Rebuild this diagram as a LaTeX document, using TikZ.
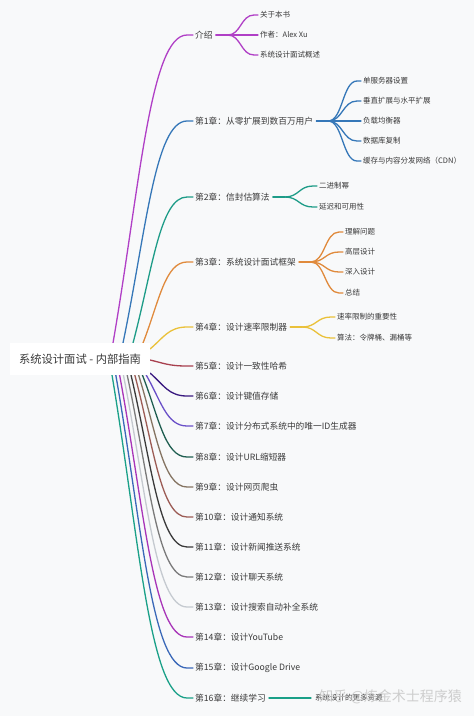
\documentclass[tikz,border=0pt]{standalone}
\usepackage{fontspec}
\newfontfamily\cjk{Noto Sans CJK SC}
\usetikzlibrary{calc}
\definecolor{bg}{HTML}{F8F9FA}
\definecolor{txt}{HTML}{3A3A3A}
\definecolor{bra}{HTML}{B03FC6}
\definecolor{brb}{HTML}{3577B8}
\definecolor{brc}{HTML}{1E9C88}
\definecolor{brd}{HTML}{E08A3C}
\definecolor{bre}{HTML}{EAC13A}
\definecolor{brf}{HTML}{A8404E}
\definecolor{brg}{HTML}{3A1A80}
\definecolor{brh}{HTML}{6A50C8}
\definecolor{bri}{HTML}{1F5E50}
\definecolor{brj}{HTML}{857462}
\definecolor{brk}{HTML}{9C5C55}
\definecolor{brl}{HTML}{3A3A3A}
\definecolor{brm}{HTML}{7A7A7A}
\definecolor{brn}{HTML}{C5CAD0}
\definecolor{bro}{HTML}{A834B8}
\definecolor{brp}{HTML}{3A68B8}
\definecolor{brq}{HTML}{1AA088}
\newcommand\mainbr[3]{\draw[conn,#3] let \p1=(#1), \p2=($(#2.west)+(-8,0)$) in (\p1) .. controls ({\x1+0.36*(\x2-\x1)},{\y1+0.5*(\y2-\y1)}) and ({0.5*(\x1+\x2)},\y2) .. (\p2) -- ($(#2.west)+(-2,0)$);}
\newcommand\kidbr[3]{\draw[conn,#3] let \p1=(#1), \p2=($(#2.west)+(-6,0)$) in (\p1) .. controls ({0.5*(\x1+\x2)},\y1) and ({0.5*(\x1+\x2)},\y2) .. (\p2) -- ($(#2.west)+(-2,0)$);}
\newcommand\stub[2]{\coordinate (#1o) at ($(#1.east)+(15,0)$); \draw[conn,#2] ($(#1.east)+(3,0)$) -- (#1o);}
\begin{document}
\begin{tikzpicture}[x=1pt,y=-1pt,
  chap/.style={anchor=west, inner sep=0pt, font=\cjk\fontsize{8.7}{10}\selectfont, text=txt},
  leaf/.style={anchor=west, inner sep=0pt, font=\cjk\fontsize{7.5}{9}\selectfont, text=txt},
  conn/.style={line width=1.3pt, line cap=round},
  rootbox/.style={fill=white, minimum width=140pt, minimum height=32pt, inner sep=0pt, font=\cjk\fontsize{11.3}{13}\selectfont, text=txt},
  wmark/.style={anchor=east, inner sep=0pt, font=\cjk\fontsize{14}{16}\selectfont, text=gray!45, opacity=0.85}]
\fill[bg] (0,0) rectangle (474,716);
\useasboundingbox (0,0) rectangle (474,716);
% chapters
\node[chap] (intro) at (195,35) {介绍};
\node[chap] (n1) at (195,121) {第1章：从零扩展到数百万用户};
\node[chap] (n2) at (195,197) {第2章：信封估算法};
\node[chap] (n3) at (195,262) {第3章：系统设计面试框架};
\node[chap] (n4) at (195,327) {第4章：设计速率限制器};
\node[chap] (n5) at (195,366) {第5章：设计一致性哈希};
\node[chap] (n6) at (195,396) {第6章：设计键值存储};
\node[chap] (n7) at (195,426) {第7章：设计分布式系统中的唯一ID生成器};
\node[chap] (n8) at (195,457) {第8章：设计URL缩短器};
\node[chap] (n9) at (195,487) {第9章：设计网页爬虫};
\node[chap] (n10) at (195,517) {第10章：设计通知系统};
\node[chap] (n11) at (195,547) {第11章：设计新闻推送系统};
\node[chap] (n12) at (195,577) {第12章：设计聊天系统};
\node[chap] (n13) at (195,607) {第13章：设计搜索自动补全系统};
\node[chap] (n14) at (195,637) {第14章：设计YouTube};
\node[chap] (n15) at (195,668) {第15章：设计Google Drive};
\node[chap] (n16) at (195,698) {第16章：继续学习};
% leaves
\node[leaf] (i1) at (260,15) {关于本书};
\node[leaf] (i2) at (260,35) {作者：Alex Xu};
\node[leaf] (i3) at (260,55) {系统设计面试概述};
\node[leaf] (a1) at (363,81) {单服务器设置};
\node[leaf] (a2) at (363,101) {垂直扩展与水平扩展};
\node[leaf] (a3) at (363,121) {负载均衡器};
\node[leaf] (a4) at (363,141) {数据库复制};
\node[leaf] (a5) at (363,161) {缓存与内容分发网络（CDN）};
\node[leaf] (b1) at (319,186) {二进制幂};
\node[leaf] (b2) at (319,207) {延迟和可用性};
\node[leaf] (c1) at (345,232) {理解问题};
\node[leaf] (c2) at (345,252) {高层设计};
\node[leaf] (c3) at (345,272) {深入设计};
\node[leaf] (c4) at (345,293) {总结};
\node[leaf] (d1) at (337,317) {速率限制的重要性};
\node[leaf] (d2) at (337,338) {算法：令牌桶、漏桶等};
\node[leaf] (e1) at (315,698) {系统设计的更多资源};
% start points on the root box
\coordinate (s0) at (113,343);
\coordinate (s1) at (123,343);
\coordinate (s2) at (133,343);
\coordinate (s3) at (143,343);
\coordinate (s4) at (150,349);
\coordinate (s5) at (150,360);
\coordinate (s6) at (150,373);
\coordinate (s7) at (146.2,375);
\coordinate (s8) at (142.4,375);
\coordinate (s9) at (138.6,375);
\coordinate (s10) at (134.8,375);
\coordinate (s11) at (131,375);
\coordinate (s12) at (127.2,375);
\coordinate (s13) at (123.4,375);
\coordinate (s14) at (119.6,375);
\coordinate (s15) at (115.8,375);
\coordinate (s16) at (112,375);
% main branches
\mainbr{s0}{intro}{bra}
\mainbr{s1}{n1}{brb}
\mainbr{s2}{n2}{brc}
\mainbr{s3}{n3}{brd}
\mainbr{s4}{n4}{bre}
\mainbr{s5}{n5}{brf}
\mainbr{s6}{n6}{brg}
\mainbr{s7}{n7}{brh}
\mainbr{s8}{n8}{bri}
\mainbr{s9}{n9}{brj}
\mainbr{s10}{n10}{brk}
\mainbr{s11}{n11}{brl}
\mainbr{s12}{n12}{brm}
\mainbr{s13}{n13}{brn}
\mainbr{s14}{n14}{bro}
\mainbr{s15}{n15}{brp}
\mainbr{s16}{n16}{brq}
% sub branches
\stub{intro}{bra}
\kidbr{introo}{i1}{bra}
\kidbr{introo}{i2}{bra}
\kidbr{introo}{i3}{bra}
\stub{n1}{brb}
\kidbr{n1o}{a1}{brb}
\kidbr{n1o}{a2}{brb}
\kidbr{n1o}{a3}{brb}
\kidbr{n1o}{a4}{brb}
\kidbr{n1o}{a5}{brb}
\stub{n2}{brc}
\kidbr{n2o}{b1}{brc}
\kidbr{n2o}{b2}{brc}
\stub{n3}{brd}
\kidbr{n3o}{c1}{brd}
\kidbr{n3o}{c2}{brd}
\kidbr{n3o}{c3}{brd}
\kidbr{n3o}{c4}{brd}
\stub{n4}{bre}
\kidbr{n4o}{d1}{bre}
\kidbr{n4o}{d2}{bre}
\draw[conn,brq] ($(n16.east)+(3,0)$) -- ($(e1.west)+(-4,0)$);
% root
\node[rootbox] (root) at (80,359) {系统设计面试 - 内部指南};
% watermark
\node[wmark] (wm) at (462,697) {知乎 @炼金术士程序猿};
\end{tikzpicture}
\end{document}
